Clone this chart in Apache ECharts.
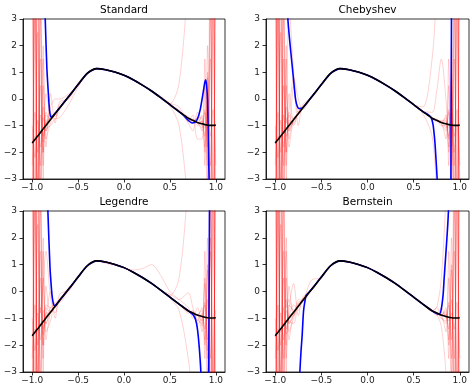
<!DOCTYPE html>
<html><head><meta charset="utf-8">
<script src="https://cdn.jsdelivr.net/npm/echarts@6/dist/echarts.min.js"></script>
<style>html,body{margin:0;padding:0;background:#fff}#c{width:474px;height:391px}</style>
</head><body><div id="c"></div>
<script>
// ---------- data ----------
const titles = ['Standard', 'Chebyshev', 'Legendre', 'Bernstein'];
const xTicks = [-1, -0.5, 0, 0.5, 1];
const yTicks = [-3, -2, -1, 0, 1, 2, 3];

// shared x grid for the true curve and the faint red fits
const gridX = [-1, -0.97, -0.94, -0.91, -0.88, -0.85, -0.8, -0.75, -0.7, -0.6, -0.5, -0.4, -0.3, -0.2, -0.1, 0, 0.1, 0.2, 0.3, 0.4, 0.5, 0.6, 0.7, 0.75, 0.8, 0.85, 0.88, 0.91, 0.94, 0.97, 1];

// true function (black)
const trueY = [-1.65, -1.52, -1.39, -1.26, -1.12, -0.99, -0.77, -0.55, -0.33, 0.1, 0.54, 0.96, 1.14, 1.1, 1.01, 0.89, 0.72, 0.52, 0.3, 0.05, -0.21, -0.47, -0.72, -0.8, -0.88, -0.93, -0.96, -0.98, -0.99, -0.99, -0.98];

// faint red fits, per panel
const redStandard = [
  [-12, 8, -6, 4, -2.5, -0.5, -0.77, -0.55, -0.33, 0.1, 0.54, 0.96, 1.14, 1.1, 1.01, 0.89, 0.72, 0.52, 0.3, 0.05, -0.21, -0.47, -0.72, -0.8, -0.88, -1.2, 0.5, -3, 4, -7, 12],
  [10, -9, 6, -4, 1.5, -1.5, -0.9, -0.5, -0.33, 0.1, 0.54, 0.96, 1.14, 1.1, 1.01, 0.89, 0.72, 0.52, 0.3, 0.05, -0.21, -0.47, -0.72, -0.8, -0.88, -0.6, -2.5, 2, -5, 8, -15],
  [-20, 12, -7, 3, -2, -0.6, -0.77, -0.55, -0.33, 0.1, 0.54, 0.96, 1.14, 1.1, 1.01, 0.89, 0.72, 0.52, 0.3, 0.05, -0.21, -0.47, -0.72, -0.85, -0.7, -1.0, -0.4, -2.5, 3, -6, 10],
  [15, -6, 5, -3.5, 0.5, -1.2, -0.6, -0.65, -0.4, 0.15, 0.5, 0.97, 1.13, 1.1, 1.01, 0.89, 0.72, 0.52, 0.3, 0.05, -0.22, -0.45, -0.75, -0.75, -1.0, -0.8, -1.8, 0.8, -4, 5, -9],
  [-8, 5, -4, 1.5, -2, -0.8, -0.77, -0.55, -0.33, 0.1, 0.54, 0.96, 1.14, 1.1, 1.01, 0.89, 0.72, 0.52, 0.3, 0.05, -0.21, -0.47, -0.72, -0.8, -0.88, -1.1, -0.5, -1.8, 1.5, -4, 7],
  [6, -5, 2.5, -2.5, -0.3, -1.1, -1.0, -0.75, -0.7, -0.2, 0.45, 1.0, 1.13, 1.1, 1.01, 0.89, 0.72, 0.52, 0.3, 0.1, -0.15, -0.3, -0.9, -1.2, -0.5, -0.9, -1.4, -0.3, -2.5, 3, -6],
  [-4, 3, -3, 0.5, -1.6, -0.9, -0.7, -0.5, -0.35, 0.1, 0.54, 0.96, 1.14, 1.1, 1.01, 0.89, 0.72, 0.52, 0.3, 0.05, -0.18, 0.6, 4.5, 7, 9, 8, 7, 6, 5, 6, 9],
  [-1.7, -1.4, -1.5, -1.2, -1.1, -1.0, -0.3, 0.0, 0.0, 0.2, 0.5, 0.95, 1.14, 1.1, 1.01, 0.89, 0.72, 0.52, 0.3, 0.05, -0.25, -1.0, -4, -6, -8, -9, -9, -9, -8, -7, -6],
  [-2.5, -0.5, -2, -0.6, -1.4, -0.9, -0.77, -0.55, -0.33, 0.1, 0.54, 0.96, 1.14, 1.1, 1.01, 0.89, 0.72, 0.52, 0.3, 0.05, -0.21, -0.47, -0.72, -0.8, -0.88, -0.85, -1.1, -0.8, -1.4, -0.4, -2.5],
  [25, -15, 8, -5, 2, -1.8, 0.2, -0.9, -0.1, 0, 0.6, 0.94, 1.15, 1.1, 1.01, 0.89, 0.72, 0.52, 0.3, 0.06, -0.25, -0.4, -0.85, -0.6, -1.5, -1.5, 1.5, -5, 8, -12, 20],
  [-1.0, -2.2, -0.8, -1.8, -0.7, -1.2, -0.77, -0.55, -0.33, 0.1, 0.54, 0.96, 1.14, 1.1, 1.01, 0.89, 0.72, 0.52, 0.3, 0.05, -0.21, -0.47, -0.72, -0.8, -0.88, -0.9, -0.95, -0.98, -0.99, -1.0, -0.97],
  [-15, 4, -8, 6, -3, 0.2, -0.5, -0.75, -0.2, 0.05, 0.56, 0.96, 1.14, 1.1, 1.01, 0.89, 0.72, 0.52, 0.3, 0.05, -0.2, -0.5, -0.65, -0.9, -0.7, -0.7, -2, 1, -6, 10, -18]
];
const redChebyshev = [
  [-12, 8, -6, 4, -2.5, -0.5, -0.77, -0.55, -0.33, 0.1, 0.54, 0.96, 1.14, 1.1, 1.01, 0.89, 0.72, 0.52, 0.3, 0.05, -0.21, -0.47, -0.72, -0.8, -0.88, -0.6, -2.5, 2, -5, 8, -15],
  [10, -9, 6, -4, 1.5, -1.5, -0.7, -0.6, -0.3, 0.1, 0.54, 0.96, 1.14, 1.1, 1.01, 0.89, 0.72, 0.52, 0.3, 0.05, -0.21, -0.47, -0.72, -0.78, -0.95, -1.2, 0.5, -3, 4, -7, 12],
  [-20, 12, -7, 3, -2, -0.6, -1.0, -0.45, -0.35, 0.1, 0.54, 0.96, 1.14, 1.1, 1.01, 0.89, 0.72, 0.52, 0.3, 0.05, -0.21, -0.47, -0.7, -0.85, -0.8, -0.8, -1.8, 0.8, -4, 5, -9],
  [15, -6, 5, -3.5, 0.5, -1.2, 0.5, -1.0, -0.2, 0.05, 0.56, 0.95, 1.14, 1.1, 1.01, 0.89, 0.72, 0.52, 0.3, 0.05, -0.21, -0.47, -0.72, -0.75, -1.0, -1.0, -0.4, -2.5, 3, -6, 10],
  [-8, 5, -4, 1.5, -2, -0.8, -0.9, -0.5, -0.3, 0.1, 0.54, 0.96, 1.14, 1.1, 1.01, 0.89, 0.72, 0.52, 0.3, 0.05, -0.2, -0.45, -0.5, 0.3, 1.5, 0.0, -1.5, -0.5, -2, -1, -3],
  [6, -5, 2.5, -2.5, -0.3, -1.1, -0.85, -0.55, -0.33, 0.1, 0.54, 0.96, 1.14, 1.1, 1.01, 0.89, 0.72, 0.52, 0.3, 0.05, -0.21, -0.3, 1.5, 4, 6, 7, 6, 5, 4, 5, 8],
  [-4, 3, -3, 0.5, -0.9, -0.4, 0.8, 0.0, -0.4, 0.12, 0.52, 0.96, 1.14, 1.1, 1.01, 0.89, 0.72, 0.52, 0.3, 0.05, -0.21, -0.55, -1.4, -3.5, -6, -8, -8, -7, -6, -7, -9],
  [-1.7, -1.4, -1.5, -1.2, 0, 3.5, 1, -0.5, -0.3, 0.1, 0.54, 0.96, 1.14, 1.1, 1.01, 0.89, 0.72, 0.52, 0.3, 0.05, -0.21, -0.47, -0.72, -0.8, -0.85, -1.1, -0.5, -1.8, 1.5, -4, 7],
  [-2.5, -0.5, -2, -0.6, -1.4, -0.9, -0.77, -0.55, -0.33, 0.1, 0.54, 0.96, 1.14, 1.1, 1.01, 0.89, 0.72, 0.52, 0.3, 0.05, -0.21, -0.47, -0.72, -0.8, -0.88, -0.9, -1.4, -0.3, -2.5, 3, -6],
  [25, -15, 8, -5, 2, -1.8, -0.77, -0.55, -0.33, 0.1, 0.54, 0.96, 1.14, 1.1, 1.01, 0.89, 0.72, 0.52, 0.3, 0.05, -0.21, -0.47, -0.72, -0.8, -0.88, -1.5, 1.5, -5, 8, -12, 20],
  [-1.0, -2.2, -0.8, -1.8, -0.7, -1.2, -0.77, -0.55, -0.33, 0.1, 0.54, 0.96, 1.14, 1.1, 1.01, 0.89, 0.72, 0.52, 0.3, 0.05, -0.21, -0.47, -0.72, -0.8, -0.88, -0.85, -1.1, -0.8, -1.4, -0.4, -2.5],
  [-15, 4, -8, 6, -3, 0.2, -0.77, -0.55, -0.33, 0.1, 0.54, 0.96, 1.14, 1.1, 1.01, 0.89, 0.72, 0.52, 0.3, 0.05, -0.21, -0.47, -0.72, -0.8, -0.88, -0.7, -2, 1, -6, 10, -18]
];
const redLegendre = [
  [-12, 8, -6, 4, -2.5, -0.5, -0.6, -0.6, -0.3, 0.1, 0.54, 0.96, 1.14, 1.1, 1.01, 0.89, 0.72, 0.52, 0.3, 0.05, -0.21, -0.47, -0.72, -0.82, -0.85, -0.7, -2, 1, -6, 10, -18],
  [10, -9, 6, -4, 1.5, -1.5, -1.1, -0.4, -0.4, 0.12, 0.52, 0.96, 1.14, 1.1, 1.01, 0.89, 0.72, 0.52, 0.3, 0.05, -0.21, -0.47, -0.75, -0.75, -1.05, -1.2, 0.5, -3, 4, -7, 12],
  [-20, 12, -7, 3, -2, -0.6, -0.77, -0.55, -0.33, 0.1, 0.54, 0.96, 1.14, 1.1, 1.01, 0.89, 0.72, 0.52, 0.3, 0.05, -0.21, -0.47, -0.72, -0.8, -0.88, -0.6, -2.5, 2, -5, 8, -15],
  [15, -6, 5, -3.5, 0.5, -1.2, -0.7, -0.6, -0.25, 0.0, 0.6, 0.9, 1.16, 1.05, 0.98, 0.9, 0.8, 0.85, 1.0, 0.6, 0.0, -0.3, -0.6, -1.0, -0.6, -1.3, 0.3, -2.2, 2, -4, 7],
  [-8, 5, -4, 1.5, -2, -0.8, -0.8, -0.5, -0.35, 0.1, 0.54, 0.96, 1.14, 1.1, 1.01, 0.89, 0.72, 0.52, 0.3, 0.05, -0.15, 0.5, 4, 6, 7, 6, 5, 4, 5, 7, 9],
  [6, -5, 2.5, -0.8, 0.3, 1.5, -0.2, -0.8, -0.3, 0.15, 0.5, 0.97, 1.13, 1.1, 1.01, 0.89, 0.72, 0.52, 0.3, 0.05, -0.25, -0.7, -2.5, -4, -5, -6, -6, -5, -4, -5, -7],
  [-4, 3, -3, 0.5, -1.6, -0.9, 0, -1.0, -0.1, 0.05, 0.56, 0.95, 1.14, 1.1, 1.01, 0.89, 0.72, 0.52, 0.3, 0.05, -0.22, -0.45, -0.8, -0.7, -1.2, -1.0, -0.4, -2.5, 3, -6, 10],
  [-1.7, -1.4, -1.5, -1.2, -1.1, -1.0, -0.6, -0.45, -0.35, 0.1, 0.54, 0.96, 1.14, 1.1, 1.01, 0.89, 0.72, 0.52, 0.3, 0.05, -0.1, -0.3, -0.05, -0.6, -1.1, -0.8, -1.8, 0.8, -4, 5, -9],
  [-2.5, -0.5, -2, -0.6, -1.4, -0.9, -0.77, -0.55, -0.33, 0.1, 0.54, 0.96, 1.14, 1.1, 1.01, 0.89, 0.72, 0.52, 0.3, 0.05, -0.21, -0.47, -0.72, -0.8, -0.88, -1.1, -0.5, -1.8, 1.5, -4, 7],
  [25, -15, 8, -5, 2, -1.8, -0.77, -0.55, -0.33, 0.1, 0.54, 0.96, 1.14, 1.1, 1.01, 0.89, 0.72, 0.52, 0.3, 0.05, -0.21, -0.47, -0.72, -0.8, -0.88, -1.5, 1.5, -5, 8, -12, 20],
  [-1.0, -2.2, -0.8, -1.8, -0.7, -1.2, -0.77, -0.55, -0.33, 0.1, 0.54, 0.96, 1.14, 1.1, 1.01, 0.89, 0.72, 0.52, 0.3, 0.05, -0.21, -0.47, -0.72, -0.8, -0.88, -0.93, -0.94, -1.0, -0.97, -1.05, -0.7],
  [-15, 4, -8, 6, -3, 0.2, -0.77, -0.55, -0.33, 0.1, 0.54, 0.96, 1.14, 1.1, 1.01, 0.89, 0.72, 0.52, 0.3, 0.05, -0.21, -0.47, -0.72, -0.8, -0.88, -0.9, -1.4, -0.3, -2.5, 3, -6]
];
const redBernstein = [
  [-12, 8, -6, 4, -2.5, -0.5, -0.7, -0.6, -0.25, 0.1, 0.54, 0.96, 1.14, 1.1, 1.01, 0.89, 0.72, 0.52, 0.3, 0.05, -0.21, -0.47, -0.72, -0.78, -0.9, -0.6, -2.5, 2, -5, 8, -15],
  [10, -9, 6, -4, 1.5, -1.5, -1.0, -0.4, -0.35, 0.45, 0.5, 0.96, 1.14, 1.1, 1.01, 0.89, 0.72, 0.52, 0.3, 0.05, -0.21, -0.47, -0.75, -0.6, -0.95, -1.2, 0.5, -3, 4, -7, 12],
  [-20, 12, -7, 3, -2, -0.6, 0.3, -0.9, -0.2, 0.05, 0.56, 0.95, 1.14, 1.1, 1.01, 0.89, 0.72, 0.52, 0.3, 0.05, -0.21, -0.47, -0.72, -0.9, -0.6, -1.0, -0.4, -2.5, 3, -6, 10],
  [15, -6, 5, -3.5, 0.5, -1.2, -0.9, -0.5, -0.3, 0.1, 0.54, 0.96, 1.14, 1.1, 1.01, 0.89, 0.72, 0.52, 0.3, 0.05, -0.21, -0.47, -0.7, -0.6, 0.5, 3.5, 6, 7, 6, 5, 7],
  [-8, 5, -4, 1.5, -0.6, -0.3, -0.9, -0.3, -0.35, 0.1, 0.54, 0.96, 1.14, 1.1, 1.01, 0.89, 0.72, 0.52, 0.3, 0.05, -0.21, -0.47, -0.72, -0.85, -1.3, -3, -5, -6, -5, -4, -6],
  [6, -5, 2.5, -2.5, -0.3, -1.1, -1.2, -0.45, -0.4, 0.15, 0.5, 0.97, 1.13, 1.1, 1.01, 0.89, 0.72, 0.52, 0.3, 0.05, -0.21, -0.47, -0.68, -0.85, -0.8, -0.8, -1.8, 0.8, -4, 5, -9],
  [-4, 3, -3, 0.5, -1.6, -0.9, -0.5, -0.7, -0.3, 0.1, 0.54, 0.96, 1.14, 1.1, 1.01, 0.89, 0.72, 0.52, 0.3, 0.05, -0.21, -0.47, -0.72, -0.8, -1.0, -1.1, -0.5, -1.8, 1.5, -4, 7],
  [-1.7, -1.4, -1.5, -1.2, -1.1, -1.0, -0.77, -0.55, -0.33, 0.1, 0.54, 0.96, 1.14, 1.1, 1.01, 0.89, 0.72, 0.52, 0.3, 0.05, -0.21, -0.47, -0.72, -0.8, -0.88, -0.93, -0.96, -0.98, -0.99, -0.99, -0.98],
  [-2.5, -0.5, -2, -0.6, -1.4, -0.9, -0.77, -0.55, -0.33, 0.1, 0.54, 0.96, 1.14, 1.1, 1.01, 0.89, 0.72, 0.52, 0.3, 0.05, -0.21, -0.47, -0.72, -0.8, -0.88, -0.9, -1.4, -0.3, -2.5, 3, -6],
  [25, -15, 8, -5, 2, -1.8, -0.77, -0.55, -0.33, 0.1, 0.54, 0.96, 1.14, 1.1, 1.01, 0.89, 0.72, 0.52, 0.3, 0.05, -0.21, -0.47, -0.72, -0.8, -0.88, -1.5, 1.5, -5, 8, -12, 20],
  [-1.0, -2.2, -0.8, -1.8, -0.7, -1.2, -0.77, -0.55, -0.33, 0.1, 0.54, 0.96, 1.14, 1.1, 1.01, 0.89, 0.72, 0.52, 0.3, 0.05, -0.21, -0.47, -0.72, -0.8, -0.88, -0.85, -1.1, -0.8, -1.4, -0.4, -2.5],
  [-15, 4, -8, 6, -3, 0.2, -0.77, -0.55, -0.33, 0.1, 0.54, 0.96, 1.14, 1.1, 1.01, 0.89, 0.72, 0.52, 0.3, 0.05, -0.21, -0.47, -0.72, -0.8, -0.88, -0.7, -2, 1, -6, 10, -18]
];

// blue fits (x, y)
const blueStandardX = [-0.87, -0.858, -0.84, -0.82, -0.81, -0.8, -0.79, -0.78, -0.76, -0.74, -0.7, -0.6, -0.5, -0.4, -0.3, -0.2, -0.1, 0, 0.1, 0.2, 0.3, 0.4, 0.5, 0.6, 0.65, 0.7, 0.74, 0.77, 0.8, 0.83, 0.86, 0.88, 0.89, 0.9, 0.91, 0.92, 0.93, 0.94];
const blueStandardY = [4.0, 3.0, 1.15, 0.0, -0.45, -0.65, -0.68, -0.66, -0.58, -0.5, -0.33, 0.1, 0.54, 0.96, 1.14, 1.1, 1.01, 0.89, 0.72, 0.52, 0.3, 0.05, -0.21, -0.47, -0.62, -0.8, -0.9, -0.88, -0.75, -0.4, 0.2, 0.62, 0.72, 0.5, -0.05, -1.9, -3.5, -5];
const blueChebyshevX = [-0.87, -0.863, -0.838, -0.809, -0.78, -0.76, -0.74, -0.72, -0.7, -0.6, -0.5, -0.4, -0.3, -0.2, -0.1, 0, 0.1, 0.2, 0.3, 0.4, 0.5, 0.6, 0.65, 0.687, 0.71, 0.73, 0.745, 0.755, 0.765, 0.8, 0.9, 0.904, 0.91, 0.92];
const blueChebyshevY = [4.0, 3.0, 2.0, 1.0, 0.0, -0.28, -0.36, -0.35, -0.33, 0.1, 0.54, 0.96, 1.14, 1.1, 1.01, 0.89, 0.72, 0.52, 0.3, 0.05, -0.21, -0.47, -0.57, -0.68, -0.95, -1.6, -2.4, -3.0, -3.8, -20, -10, -3, 3, 12];
const blueLegendreX = [-0.835, -0.829, -0.806, -0.79, -0.78, -0.765, -0.75, -0.73, -0.7, -0.6, -0.5, -0.4, -0.3, -0.2, -0.1, 0, 0.1, 0.2, 0.3, 0.4, 0.5, 0.6, 0.7, 0.75, 0.78, 0.8, 0.82, 0.837, 0.85, 0.9, 0.923, 0.931, 0.94];
const blueLegendreY = [4.0, 3.0, 0.9, 0.1, -0.25, -0.5, -0.52, -0.46, -0.33, 0.1, 0.54, 0.96, 1.14, 1.1, 1.01, 0.89, 0.72, 0.52, 0.3, 0.05, -0.21, -0.47, -0.72, -0.86, -1.05, -1.4, -2.1, -3.0, -4.5, -15, -3, 3, 10];
const blueBernsteinX = [-0.745, -0.733, -0.72, -0.708, -0.694, -0.68, -0.665, -0.6, -0.5, -0.4, -0.3, -0.2, -0.1, 0, 0.1, 0.2, 0.3, 0.4, 0.5, 0.6, 0.7, 0.75, 0.78, 0.8, 0.82, 0.83, 0.845, 0.856, 0.87, 0.877, 0.89];
const blueBernsteinY = [-4.2, -3.0, -2.2, -1.63, -0.76, -0.4, -0.15, 0.1, 0.54, 0.96, 1.14, 1.1, 1.01, 0.89, 0.72, 0.52, 0.3, 0.05, -0.21, -0.47, -0.72, -0.82, -0.84, -0.65, -0.1, 0.45, 1.2, 1.75, 2.5, 3.0, 4.5];

// ---------- chart ----------
const reds = [redStandard, redChebyshev, redLegendre, redBernstein];
const blues = [[blueStandardX, blueStandardY], [blueChebyshevX, blueChebyshevY], [blueLegendreX, blueLegendreY], [blueBernsteinX, blueBernsteinY]];
const grids = [
  {left: 23, top: 19, width: 202, height: 160},
  {left: 266, top: 19, width: 203, height: 160},
  {left: 23, top: 211, width: 202, height: 161},
  {left: 266, top: 211, width: 203, height: 161}
];
const pair = (xs, ys) => xs.map((x, i) => [x, ys[i]]);
const minus = v => (v < 0 ? '\u2212' : '') + Math.abs(v);
const font = 'DejaVu Sans, sans-serif';

const xAxis = [], yAxis = [], series = [], graphic = [];
grids.forEach((g, i) => {
  xAxis.push({
    gridIndex: i, type: 'value', min: -1.1, max: 1.1,
    axisLine: {show: true, onZero: false, lineStyle: {color: '#000', width: 0.8}},
    axisTick: {show: true, length: 3.5, customValues: xTicks, lineStyle: {color: '#000', width: 0.8}},
    axisLabel: {customValues: xTicks, fontSize: 9, color: '#222', fontFamily: font, margin: 4,
      formatter: v => (v < 0 ? '\u2212' : '') + Math.abs(v).toFixed(1)},
    splitLine: {show: false}
  });
  yAxis.push({
    gridIndex: i, type: 'value', min: -3, max: 3, interval: 1,
    axisLine: {show: true, onZero: false, lineStyle: {color: '#000', width: 0.8}},
    axisTick: {show: true, length: 3.5, lineStyle: {color: '#000', width: 0.8}},
    axisLabel: {fontSize: 9, color: '#222', fontFamily: font, margin: 6, formatter: v => minus(v)},
    splitLine: {show: false}
  });
  reds[i].forEach(ys => series.push({
    type: 'line', xAxisIndex: i, yAxisIndex: i, data: pair(gridX, ys), symbol: 'none', silent: true,
    clip: true, smooth: 0.3, lineStyle: {color: 'rgba(255,0,0,0.18)', width: 1}
  }));
  series.push({
    type: 'line', xAxisIndex: i, yAxisIndex: i, data: pair(blues[i][0], blues[i][1]), symbol: 'none', silent: true,
    clip: true, smooth: 0.2, lineStyle: {color: '#0000ff', width: 1.6}, z: 3
  });
  series.push({
    type: 'line', xAxisIndex: i, yAxisIndex: i, data: pair(gridX, trueY), symbol: 'none', silent: true,
    clip: true, smooth: 0.3, lineStyle: {color: '#000', width: 1.6}, z: 4
  });
  graphic.push({
    type: 'text', x: g.left + g.width / 2, y: g.top - 9,
    style: {text: titles[i], textAlign: 'center', textVerticalAlign: 'middle', fontSize: 10.5, fill: '#000', fontFamily: font}
  });
});

const chart = echarts.init(document.getElementById('c'), null, {renderer: 'canvas'});
chart.setOption({
  animation: false,
  backgroundColor: '#fff',
  grid: grids.map(g => Object.assign({show: true, borderColor: '#000', borderWidth: 0.8, containLabel: false}, g)),
  xAxis, yAxis, series, graphic
});
</script></body></html>
